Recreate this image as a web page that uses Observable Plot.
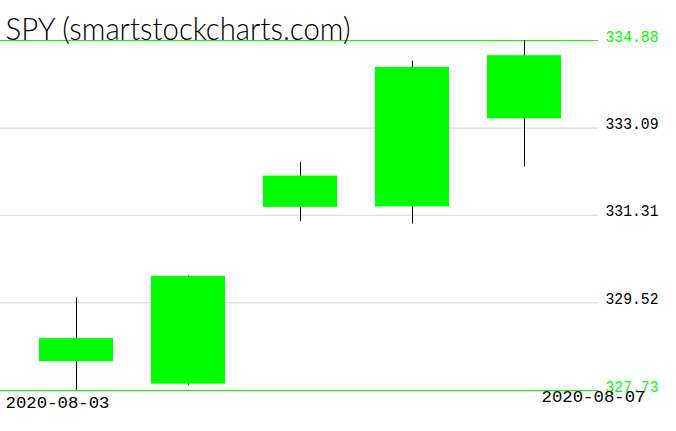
<!DOCTYPE html>
<html><head><meta charset="utf-8">
<script src="https://cdn.jsdelivr.net/npm/d3@7"></script>
<script src="https://cdn.jsdelivr.net/npm/@observablehq/plot@0.6"></script>
<style>body{margin:0;background:#fff;} #chart svg{display:block;}</style>
</head><body><div id="chart"></div>
<script>
const dates = ["2020-08-03","2020-08-04","2020-08-05","2020-08-06","2020-08-07"];
const open  = [328.32, 327.86, 331.47, 331.48, 333.28];
const high  = [329.62, 330.07, 332.39, 334.46, 334.88];
const low   = [327.73, 327.84, 331.18, 331.13, 332.30];
const close = [328.79, 330.06, 332.11, 334.33, 334.57];
const priceTicks = [327.73, 329.52, 331.31, 333.09, 334.88];
const dateLabels = ["2020-08-03", "2020-08-07"];
const title = "SPY (smartstockcharts.com)";

const rows = dates.map((d, i) => ({date: d, open: open[i], high: high[i], low: low[i], close: close[i]}));
const yMin = priceTicks[0], yMax = priceTicks[priceTicks.length - 1];
const green = "#00ff00";

const chart = Plot.plot({
  width: 676, height: 431,
  marginTop: 40, marginBottom: 41, marginLeft: 0, marginRight: 78,
  style: {fontFamily: "'Liberation Mono', 'DejaVu Sans Mono', monospace", background: "#fff", overflow: "visible"},
  x: {type: "band", domain: dates, range: [18.75, 581.25], paddingInner: 0.342, paddingOuter: 0.171, axis: null},
  y: {domain: [yMin, yMax], axis: null},
  marks: [
    Plot.ruleY(priceTicks.slice(1, -1), {stroke: "#d3d3d3", strokeWidth: 1}),
    Plot.ruleY([yMin, yMax], {stroke: green, strokeWidth: 1.2}),
    Plot.ruleX(rows, {x: "date", y1: "low", y2: "high", stroke: "#000", strokeWidth: 1}),
    Plot.barY(rows, {x: "date", y1: "open", y2: "close", fill: green}),
    Plot.text(priceTicks.slice(1, -1), {y: d => d, text: d => d.toFixed(2), frameAnchor: "right", dx: 7, dy: 1, textAnchor: "start", lineAnchor: "bottom", fontSize: 16, fill: "#000", className: "pricelab"}),
    Plot.text([yMin, yMax], {y: d => d, text: d => d.toFixed(2), frameAnchor: "right", dx: 7, dy: 1, textAnchor: "start", lineAnchor: "bottom", fontSize: 16, fill: green, className: "pricelab"}),
    Plot.text([dateLabels[0]], {frameAnchor: "bottom-left", dx: 5, dy: 17, textAnchor: "start", lineAnchor: "bottom", fontSize: 17, fill: "#000", className: "datelab"}),
    Plot.text([dateLabels[1]], {frameAnchor: "bottom-right", dx: 47, dy: 11.5, textAnchor: "end", lineAnchor: "bottom", fontSize: 17, fill: "#000", className: "datelab"}),
    Plot.text([title], {frameAnchor: "top-left", dx: 5, dy: -1, textAnchor: "start", lineAnchor: "bottom", fontSize: 32, fill: "#000", className: "titlelab"})
  ]
});
document.getElementById("chart").append(chart);
const t = d3.select(chart).select(".titlelab text");
t.attr("textLength", 345).attr("lengthAdjust", "spacingAndGlyphs").style("font-family", "Lato, 'DejaVu Sans'").style("font-weight", 300);
d3.select(chart).selectAll(".datelab text").attr("textLength", 104).attr("lengthAdjust", "spacingAndGlyphs");
d3.select(chart).selectAll(".pricelab text").attr("textLength", 53).attr("lengthAdjust", "spacingAndGlyphs");
</script>
</body></html>
